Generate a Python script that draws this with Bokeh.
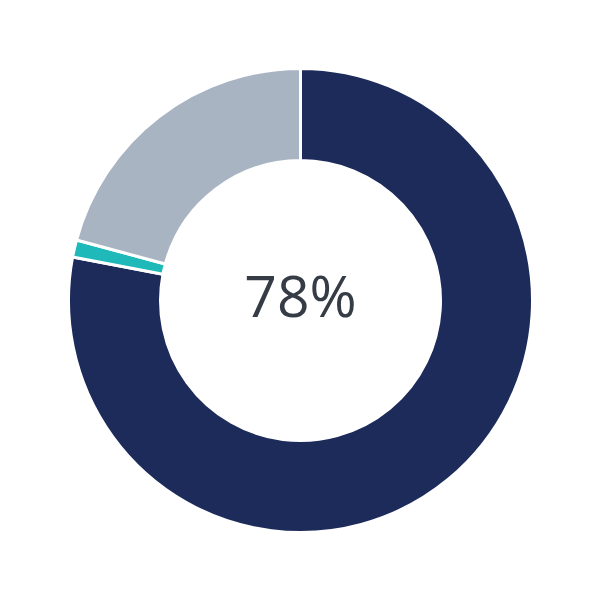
import numpy as np
from bokeh.plotting import figure
from bokeh.models import ColumnDataSource
from bokeh.core.properties import value
from bokeh.embed import file_html
from bokeh.resources import INLINE

categories = ["Primary", "Secondary", "Other"]
values = [78, 1.2, 20.8]
colors = ["#1c2b5a", "#1fb9b9", "#a9b4c2"]
center_label = "78%"

fracs = np.array(values, dtype=float) / sum(values)
cum = np.concatenate([[0], np.cumsum(fracs)])
start = np.pi / 2 - 2 * np.pi * cum[:-1]
end = np.pi / 2 - 2 * np.pi * cum[1:]

src = ColumnDataSource(dict(cat=categories, val=values, start=start, end=end, color=colors))

p = figure(width=584, height=584, x_range=(-300, 284), y_range=(-284, 300),
           output_backend="svg", toolbar_location=None, min_border=0)
p.axis.visible = False
p.grid.visible = False
p.outline_line_color = None

p.annular_wedge(x=0, y=0, inner_radius=140, outer_radius=232,
                start_angle="start", end_angle="end", direction="clock",
                fill_color="color", line_color="white", line_width=3, source=src)

p.text(x=[0], y=[0], y_offset=-6, text=[center_label], text_align="center", text_baseline="middle",
       text_font=value("Open Sans"), text_font_size="57px", text_color="#363c46")

open("out.html", "w").write(file_html(p, INLINE))
